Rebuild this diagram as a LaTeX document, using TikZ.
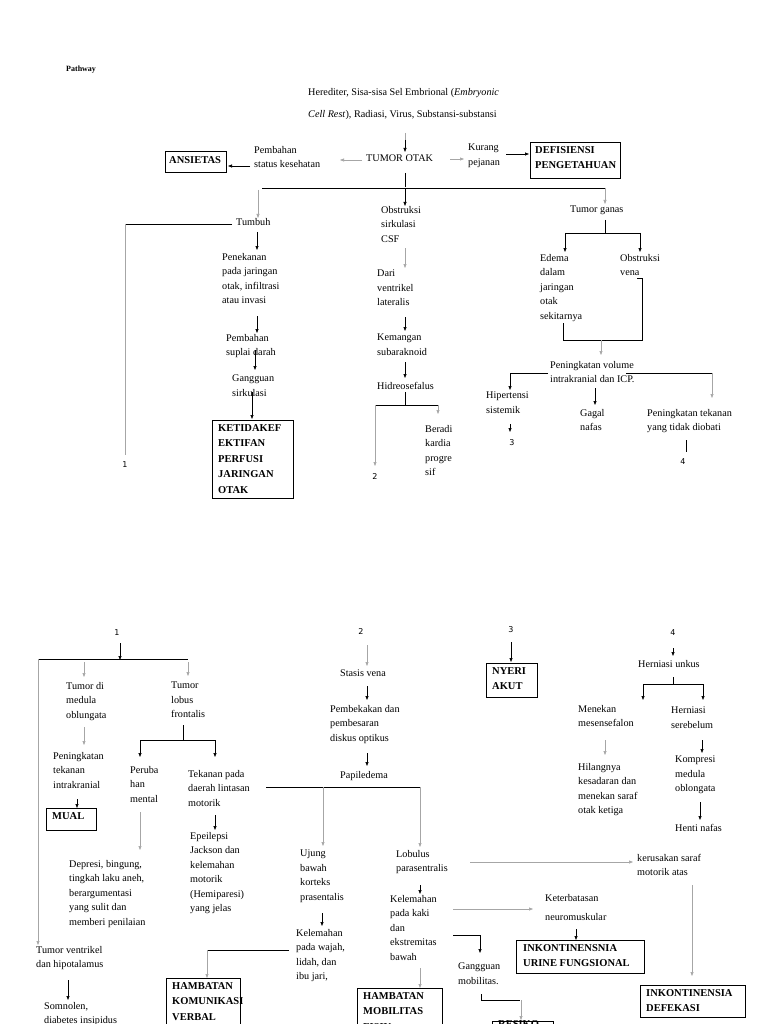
\documentclass[tikz,border=0pt]{standalone}
\usepackage{fontspec}
\setmainfont{Liberation Serif}
\newfontfamily\numfont{DejaVu Sans}
\usetikzlibrary{arrows.meta}
\tikzset{
 tx/.style={anchor=north west,inner sep=0pt,align=left,font=\fontsize{10.2}{14.5}\selectfont},
 bx/.style={anchor=north west,inner sep=0pt,align=left,font=\fontsize{10.5}{15.5}\selectfont\bfseries},
 num/.style={inner sep=0pt,font=\numfont\fontsize{8}{10}\selectfont},
 ar/.style={-{Triangle[length=4pt,width=3pt]},line width=0.7pt},
 gr/.style={-{Triangle[length=4pt,width=3pt]},line width=0.6pt,draw=black!35},
 ln/.style={line width=0.7pt},
 gl/.style={line width=0.6pt,draw=black!35},
 frame/.style={line width=0.9pt}
}
\newcommand{\T}[4]{\node[tx] (#1) at (#2,#3) {#4};}
\begin{document}
\begin{tikzpicture}[x=1pt,y=-1pt]
\clip (0,0) rectangle (768,1024);
\fill[white] (0,0) rectangle (768,1024);
% ---------- top part
\node[tx,font=\fontsize{8}{10}\selectfont\bfseries] (pw) at (66,66) {Pathway};
\node[tx,font=\fontsize{10.2}{22}\selectfont] (her) at (308,88) {Herediter, Sisa-sisa Sel Embrional (\textit{Embryonic}\\\textit{Cell Rest}), Radiasi, Virus, Substansi-substansi};
\draw[gl] (405,133) -- (405,140);
\draw[ar] (405,140) -- (405,152);
\T{tumor}{366}{155}{TUMOR OTAK}
\T{pemb}{254}{146}{Pembahan\\status kesehatan}
\draw[gr] (362,160) -- (340,160);
\draw[frame] (165,151) rectangle (226,172); \node[bx] (ans) at (169,156) {ANSIETAS};
\draw[ar] (250,166) -- (228,166);
\T{kur}{468}{144}{Kurang\\pejanan}
\draw[gr] (450,159) -- (464,159);
\draw[frame] (530,142) rectangle (620,178); \node[bx] (def) at (535,146) {DEFISIENSI\\PENGETAHUAN};
\draw[ar] (506,154) -- (529,154);
\draw[ln] (405,173) -- (405,187);
\draw[ar] (405,188) -- (405,206);
\draw[ln] (262,188) -- (605,188);
\draw[gr] (258,190) -- (258,218);
\draw[gr] (605,188) -- (605,204);
% left column
\T{tumbuh}{236}{218}{Tumbuh}
\draw[ln] (232,224) -- (125,224);
\draw[gl] (125,224) -- (125,455);
\node[num] at (125,465) {1};
\draw[ar] (257,232) -- (257,250);
\T{pen}{222}{253}{Penekanan\\pada jaringan\\otak, infiltrasi\\atau invasi}
\draw[ar] (257,316) -- (257,333);
\T{psup}{226}{334}{Pembahan\\suplai darah}
\draw[ar] (255,350) -- (255,370);
\T{gang}{232}{375}{Gangguan\\sirkulasi}
\draw[ar] (252,392) -- (252,419);
\draw[frame] (212,420) rectangle (293,498); \node[bx] (ket) at (218,424) {KETIDAKEF\\EKTIFAN\\PERFUSI\\JARINGAN\\OTAK};
% middle column
\T{obs}{381}{206}{Obstruksi\\sirkulasi\\CSF}
\draw[gr] (405,248) -- (405,268);
\T{dari}{377}{270}{Dari\\ventrikel\\lateralis}
\draw[ar] (405,317) -- (405,331);
\T{kem}{377}{334}{Kemangan\\subaraknoid}
\draw[ar] (405,362) -- (405,378);
\T{hid}{377}{382}{Hidreosefalus}
\draw[ln] (405,392) -- (405,405);
\draw[ln] (375,405) -- (438,405);
\draw[gr] (375,405) -- (375,466);
\node[num] at (375,477) {2};
\draw[gr] (438,405) -- (438,414);
\T{ber}{425}{425}{Beradi\\kardia\\progre\\sif}
% right column
\T{tg}{570}{206}{Tumor ganas}
\draw[ln] (605,220) -- (605,233);
\draw[ln] (565,233) -- (640,233);
\draw[ar] (565,233) -- (565,252);
\draw[ar] (640,233) -- (640,252);
\T{ede}{540}{254}{Edema\\dalam\\jaringan\\otak\\sekitarnya}
\T{obv}{620}{254}{Obstruksi\\vena}
\draw[ln] (637,278) -- (642,278) -- (642,340) -- (563,340) -- (563,323);
\draw[gr] (601,340) -- (601,355);
\T{pvol}{550}{361}{Peningkatan volume\\intrakranial dan ICP.}
\draw[ln] (548,373) -- (510,373);
\draw[ar] (510,373) -- (510,390);
\T{hip}{486}{392}{Hipertensi\\sistemik}
\draw[ar] (510,424) -- (510,432);
\node[num] at (512,443) {3};
\draw[ar] (595,388) -- (595,405);
\T{gag}{580}{409}{Gagal\\nafas}
\draw[ln] (626,373) -- (712,373);
\draw[gr] (712,373) -- (712,398);
\T{ptek}{647}{409}{Peningkatan tekanan\\yang tidak diobati}
\draw[ln] (686,440) -- (686,452);
\node[num] at (683,462) {4};
% ---------- bottom part : 1
\node[num] at (117,633) {1};
\draw[ar] (120,643) -- (120,660);
\draw[ln] (38,659) -- (188,659);
\draw[gr] (38,659) -- (38,945);
\draw[gr] (84,662) -- (84,677);
\draw[gr] (188,662) -- (188,676);
\T{tmed}{66}{682}{Tumor di\\medula\\oblungata}
\draw[gr] (84,727) -- (84,745);
\T{ptik}{53}{752}{Peningkatan\\tekanan\\intrakranial}
\draw[ar] (77,799) -- (77,808);
\draw[frame] (46,808) rectangle (96,830); \node[bx] (mual) at (52,812) {MUAL};
\T{tlob}{171}{682}{Tumor\\lobus\\frontalis}
\draw[ln] (183,725) -- (183,740);
\draw[ln] (140,740) -- (215,740);
\draw[ar] (140,740) -- (140,757);
\draw[ar] (215,740) -- (215,757);
\T{peru}{130}{766}{Peruba\\han\\mental}
\draw[gr] (140,812) -- (140,850);
\T{dep}{69}{860}{Depresi, bingung,\\tingkah laku aneh,\\berargumentasi\\yang sulit dan\\memberi penilaian}
\T{tpd}{188}{770}{Tekanan pada\\daerah lintasan\\motorik}
\draw[ar] (215,815) -- (215,830);
\T{epi}{190}{832}{Epeilepsi\\Jackson dan\\kelemahan\\motorik\\(Hemiparesi)\\yang jelas}
\T{tven}{36}{946}{Tumor ventrikel\\dan hipotalamus}
\draw[ar] (68,980) -- (68,1000);
\T{som}{44}{1002}{Somnolen,\\diabetes insipidus}
% 2
\node[num] at (361,632) {2};
\draw[gr] (367,645) -- (367,666);
\T{sta}{340}{670}{Stasis vena}
\draw[ar] (367,686) -- (367,700);
\T{pbk}{330}{705}{Pembekakan dan\\pembesaran\\diskus optikus}
\draw[ar] (367,753) -- (367,766);
\T{pap}{340}{771}{Papiledema}
\draw[ln] (266,787) -- (420,787);
\draw[gr] (323,787) -- (323,846);
\T{uju}{300}{850}{Ujung\\bawah\\korteks\\prasentalis}
\draw[ar] (322,913) -- (322,926);
\T{kwaj}{296}{929}{Kelemahan\\pada wajah,\\lidah, dan\\ibu jari,}
\draw[ln] (289,950) -- (207,950);
\draw[gr] (207,950) -- (207,978);
\draw[frame] (166,978) rectangle (240,1030); \node[bx] (hkv) at (172,982) {HAMBATAN\\KOMUNIKASI\\VERBAL};
\draw[gr] (420,787) -- (420,847);
\T{lob}{396}{850}{Lobulus\\parasentralis}
\draw[gr] (470,862) -- (633,862);
\T{ker}{637}{854}{kerusakan saraf\\motorik atas}
\draw[ar] (420,885) -- (420,894);
\T{kkak}{390}{895}{Kelemahan\\pada kaki\\dan\\ekstremitas\\bawah}
\draw[gr] (453,909) -- (533,909);
\node[tx,font=\fontsize{10.2}{19}\selectfont] (ketb) at (545,894) {Keterbatasan\\neuromuskular};
\draw[ar] (576,929) -- (576,940);
\draw[frame] (516,940) rectangle (644,973); \node[bx] (iuf) at (523,944) {INKONTINENSNIA\\URINE FUNGSIONAL};
\draw[ln] (453,935) -- (480,935);
\draw[ar] (480,935) -- (480,953);
\T{gmob}{458}{963}{Gangguan\\mobilitas.}
\draw[ln] (481,994) -- (481,1000) -- (520,1000);
\draw[gr] (521,1000) -- (521,1020);
\draw[frame] (492,1021) rectangle (553,1040); \node[bx] (res) at (498,1020) {RESIKO};
\draw[gr] (420,968) -- (420,988);
\draw[frame] (357,988) rectangle (442,1040); \node[bx] (hmf) at (363,992) {HAMBATAN\\MOBILITAS\\FISIK};
% 3
\node[num] at (511,630) {3};
\draw[ar] (511,642) -- (511,662);
\draw[frame] (486,663) rectangle (537,697); \node[bx] (nye) at (492,667) {NYERI\\AKUT};
% 4
\node[num] at (673,633) {4};
\draw[ar] (673,648) -- (673,656);
\T{hun}{638}{660}{Herniasi unkus}
\draw[ln] (673,677) -- (673,684);
\draw[ln] (643,684) -- (703,684);
\draw[ar] (643,684) -- (643,700);
\draw[ar] (703,684) -- (703,700);
\T{men}{578}{705}{Menekan\\mesensefalon}
\T{hser}{671}{707}{Herniasi\\serebelum}
\draw[gr] (605,740) -- (605,755);
\T{hil}{578}{763}{Hilangnya\\kesadaran dan\\menekan saraf\\otak ketiga}
\draw[ar] (702,740) -- (702,753);
\T{kom}{675}{756}{Kompresi\\medula\\oblongata}
\draw[ar] (700,802) -- (700,820);
\T{hen}{675}{824}{Henti nafas}
\draw[gl] (692,885) -- (692,970);
\draw[gr] (692,970) -- (692,976);
\draw[frame] (640,985) rectangle (745,1017); \node[bx] (idf) at (646,989) {INKONTINENSIA\\DEFEKASI};
\end{tikzpicture}
\end{document}
